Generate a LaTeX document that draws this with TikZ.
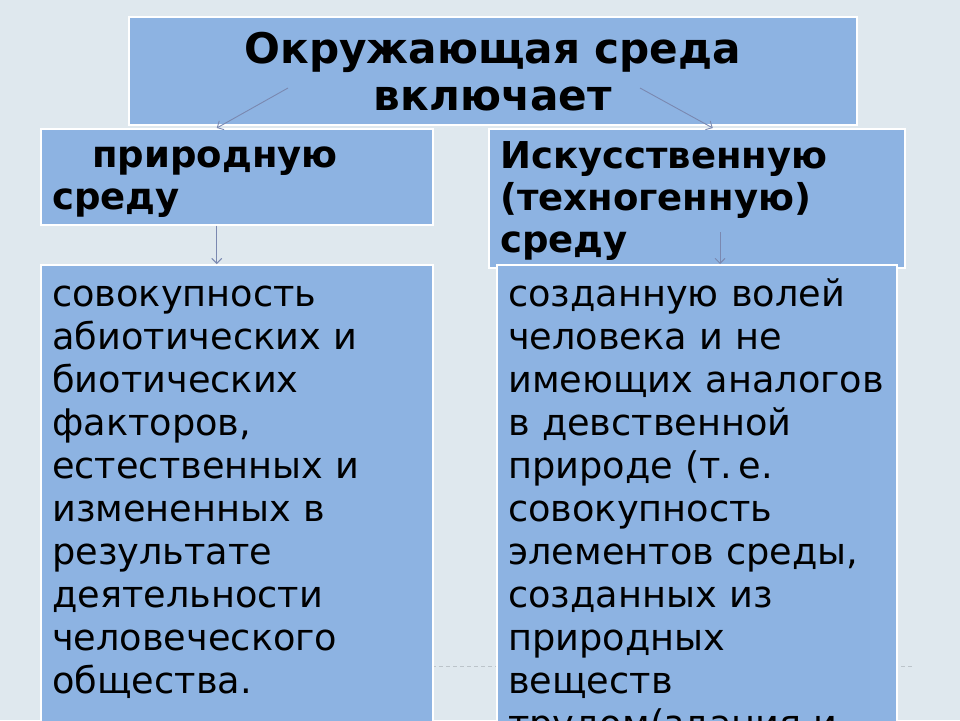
\documentclass[tikz,border=0pt]{standalone}
\usepackage{fontspec}
\setmainfont{DejaVu Sans}
\usetikzlibrary{positioning,arrows.meta}

\definecolor{slidebg}{HTML}{DFE8EE}
\definecolor{boxblue}{HTML}{8DB3E2}
\definecolor{linkgray}{HTML}{7A88B0}
\definecolor{rulegray}{HTML}{BCC4CA}

\tikzset{
  panel/.style={draw=white, line width=1.5pt, fill=boxblue, inner sep=0pt, anchor=north west},
  link/.style={-{Straight Barb[length=5pt,width=10pt]}, linkgray, line width=0.9pt},
  headtext/.style={font=\bfseries\fontsize{37}{42}\selectfont, anchor=base west, inner sep=0pt, align=left, text width=390pt},
  bodytext/.style={font=\fontsize{36.7}{43}\selectfont, anchor=base west, inner sep=0pt, align=left, text width=390pt}
}

\begin{document}
\begin{tikzpicture}[x=1pt,y=-1pt]
  \clip (0,0) rectangle (960,720);
  \fill[slidebg] (0,0) rectangle (960,720);
  \draw[rulegray, dash pattern=on 4pt off 3pt] (432,666) -- (912,666);

  % boxes
  \node[panel, minimum width=728pt, minimum height=108pt] (top) at (128,16) {};
  \node[panel, minimum width=392pt, minimum height=96pt] (lefthead) at (40,128) {};
  \node[panel, minimum width=416pt, minimum height=139pt] (righthead) at (488,128) {};
  \node[panel, minimum width=392pt, minimum height=500pt] (leftbody) at (40,264) {};
  \node[panel, minimum width=400pt, minimum height=500pt] (rightbody) at (496,264) {};

  % texts
  \node[font=\bfseries\fontsize{42.2}{47}\selectfont, anchor=base, inner sep=0pt, align=center, text width=720pt]
    (titletext) at ([yshift=-47pt]top.north) {Окружающая среда\\включает\hspace*{10pt}};
  \node[headtext] (lefthtext) at ([shift={(12,39)}]lefthead.north west)
    {\hspace*{40pt}природную\\среду};
  \node[headtext] (righthtext) at ([shift={(12,40)}]righthead.north west)
    {Искусственную\\(техногенную)\\среду};
  \node[bodytext] (leftbtext) at ([shift={(12,42)}]leftbody.north west)
    {совокупность\\абиотических и\\биотических\\факторов,\\естественных и\\измененных в\\результате\\деятельности\\человеческого\\общества.};
  \node[bodytext] (rightbtext) at ([shift={(12,42)}]rightbody.north west)
    {созданную волей\\человека и не\\имеющих аналогов\\в девственной\\природе (т.\,е.\\совокупность\\элементов среды,\\созданных из\\природных\\веществ\\трудом(здания и};

  % arrows
  \coordinate (topl) at (288,88);
  \coordinate (topr) at (640,88);
  \coordinate (rmid) at (720,232);
  \draw[link] (topl) -- ([xshift=-20pt]lefthead.north);
  \draw[link] (topr) -- ([xshift=16pt]righthead.north);
  \draw[link] ([xshift=-20pt]lefthead.south) -- ([xshift=-20pt]leftbody.north);
  \draw[link] (rmid) -- (rmid |- rightbody.north);
\end{tikzpicture}
\end{document}
